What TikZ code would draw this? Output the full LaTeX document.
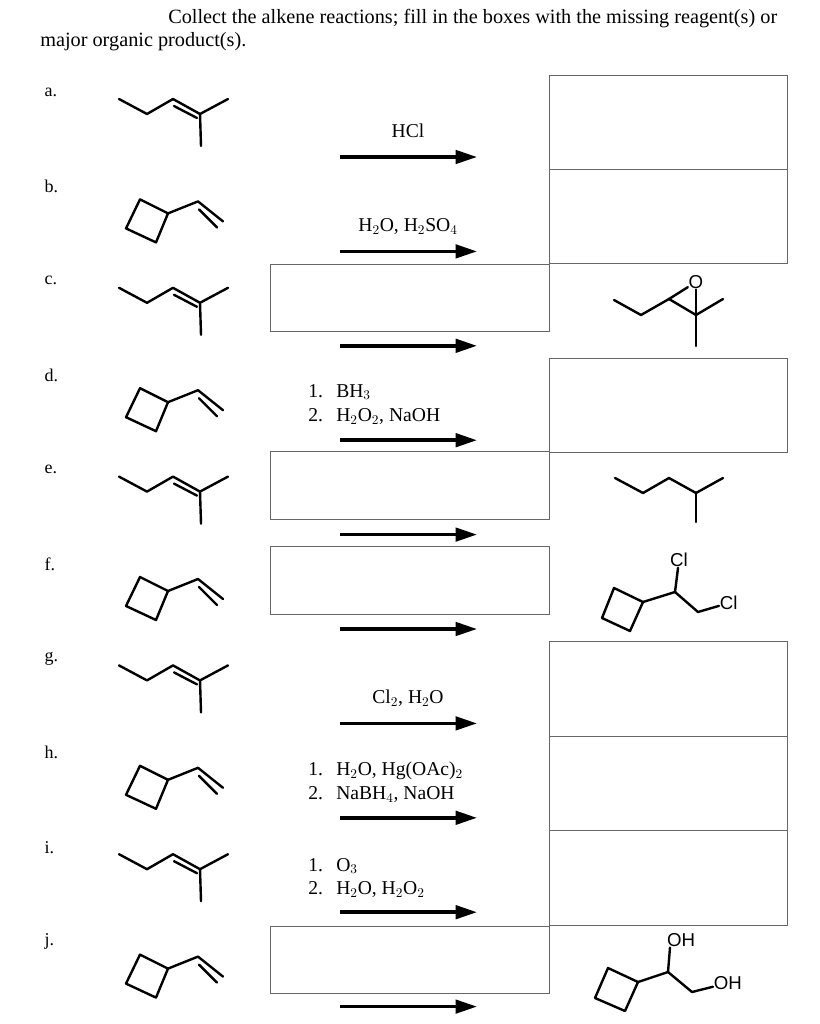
\documentclass[tikz,border=0pt]{standalone}
\usepackage{fontspec}
\setmainfont{Liberation Serif}
\newfontfamily\chemfont{Liberation Sans}
\usetikzlibrary{arrows.meta}
\newcommand{\stepno}[1]{\makebox[21pt][l]{#1}}
\begin{document}
\begin{tikzpicture}[x=0.75pt,y=-0.75pt,
    bond/.style={line width=1.8pt, line cap=round, line join=round},
    answerbox/.style={draw=black!60, line width=0.6pt},
    rxnarrow/.style={line width=2.6pt, -{Triangle[length=16pt,width=10pt]}},
    rowlabel/.style={anchor=west, font=\fontsize{13.5}{16}\selectfont},
    reagent/.style={font=\fontsize{14.7}{17}\selectfont, inner sep=0pt},
    atom/.style={font=\chemfont\fontsize{14}{16}\selectfont, inner sep=0.5pt},
    pentene/.pic={
        \draw[bond] (0,0) -- (28,15) -- (54,0) -- (81,15) -- (109,0);
        \draw[bond] (81,15) -- (82,47);
        \draw[bond] (55,7) -- (78,19);
    },
    vinylcb/.pic={
        \draw[bond] (0,0) -- (28,14) -- (16,43) -- (-14,29) -- cycle;
        \draw[bond] (28,14) -- (58,2) -- (83,22);
        \draw[bond] (59,10) -- (77,28);
    }]
\useasboundingbox (0,0) rectangle (820,1024);
% header
\node[anchor=west, inner sep=0pt, font=\fontsize{15.2}{18}\selectfont] (title1) at (168,19) {Collect the alkene reactions; fill in the boxes with the missing reagent(s) or};
\node[anchor=west, inner sep=0pt, font=\fontsize{15.2}{18}\selectfont] (title2) at (40,42) {major organic product(s).};
% rows
\foreach \lab [count=\i from 0] in {a,b,c,d,e,f,g,h,i,j}{
    \pgfmathsetmacro{\ry}{92+94.4*\i}
    \node[rowlabel] (lab\lab) at (40,\ry) {\lab.};
    \coordinate (arrs\lab) at (340,\ry+65);
    \coordinate (arre\lab) at (477,\ry+65);
    \draw[rxnarrow] (arrs\lab) -- (arre\lab);
    \ifodd\i
        \pic at (140,\ry+13) {vinylcb};
    \else
        \pic at (119,\ry+7) {pentene};
    \fi
}
% boxes
\draw[answerbox] (549,75) rectangle (787,169);
\draw[answerbox] (549,169) rectangle (787,263);
\draw[answerbox] (270,264) rectangle (549,331);
\draw[answerbox] (549,358) rectangle (787,452);
\draw[answerbox] (270,451) rectangle (549,519);
\draw[answerbox] (270,546) rectangle (549,614);
\draw[answerbox] (549,641) rectangle (787,736);
\draw[answerbox] (549,736) rectangle (787,830);
\draw[answerbox] (549,830) rectangle (787,925);
\draw[answerbox] (270,926) rectangle (549,993);
% reagents
\node[reagent] (rga) at (408,131) {HCl};
\node[reagent] (rgb) at (408,227) {H$_2$O, H$_2$SO$_4$};
\node[reagent, anchor=west] (rgd1) at (308,392) {\stepno{1.}BH$_3$};
\node[reagent, anchor=west] (rgd2) at (308,417) {\stepno{2.}H$_2$O$_2$, NaOH};
\node[reagent] (rgg) at (408,698) {Cl$_2$, H$_2$O};
\node[reagent, anchor=west] (rgh1) at (308,771) {\stepno{1.}H$_2$O, Hg(OAc)$_2$};
\node[reagent, anchor=west] (rgh2) at (308,795) {\stepno{2.}NaBH$_4$, NaOH};
\node[reagent, anchor=west] (rgi1) at (308,866) {\stepno{1.}O$_3$};
\node[reagent, anchor=west] (rgi2) at (308,890) {\stepno{2.}H$_2$O, H$_2$O$_2$};
% epoxide (c)
\node[atom] (epo) at (696,282) {O};
\draw[bond] (614,300) -- (641,315) -- (669,299) -- (696,315) -- (723,299);
\draw[bond] (669,299) -- (epo);
\draw[bond] (epo) -- (696,315) -- (696,346);
% alkane (e)
\draw[bond] (615,478) -- (643,493) -- (669,478) -- (696,493) -- (723,478);
\draw[bond] (696,493) -- (696,522);
% dichloride (f)
\node[atom] (cla) at (679,560) {Cl};
\node[atom, anchor=west] (clb) at (719,603) {Cl};
\draw[bond] (614,588) -- (643,602) -- (630,631) -- (602,618) -- cycle;
\draw[bond] (643,602) -- (675,592) -- (698,612) -- (clb);
\draw[bond] (675,592) -- (cla);
% diol (j)
\node[atom] (oha) at (681,940) {OH};
\node[atom, anchor=west] (ohb) at (713,983) {OH};
\draw[bond] (608,968) -- (638,982) -- (625,1011) -- (595,998) -- cycle;
\draw[bond] (638,982) -- (668,972) -- (692,992) -- (ohb);
\draw[bond] (668,972) -- (oha.south -| 670,0);
\end{tikzpicture}
\end{document}
